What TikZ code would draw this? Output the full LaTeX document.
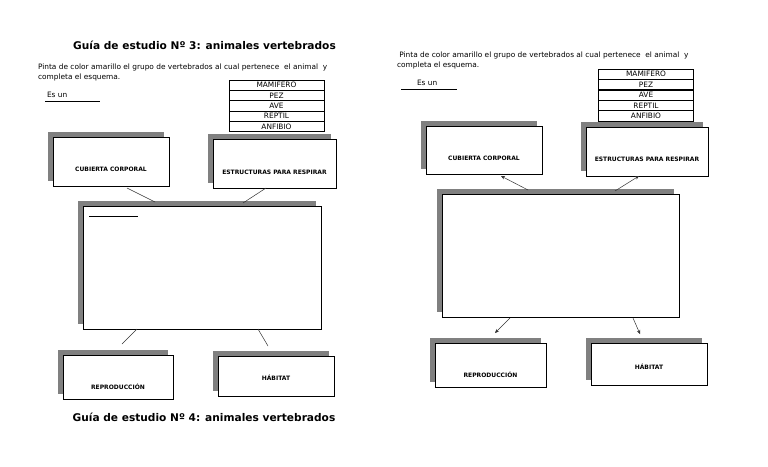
\documentclass[tikz,border=0pt]{standalone}
\usepackage{fontspec}
\setmainfont{DejaVu Sans}
\usetikzlibrary{calc,shadows,arrows.meta}
\begin{document}
\begin{tikzpicture}[x=1pt,y=-1pt,
  every node/.style={inner sep=0pt,outer sep=0pt},
  shbox/.style={draw=black,line width=0.8pt,fill=white,rectangle,
     general shadow={fill=shgray,shadow xshift=-5pt,shadow yshift=5pt}},
  boxlab/.style={font=\fontsize{6.0}{7}\selectfont\bfseries},
  listrow/.style={draw=black,line width=0.7pt,fill=white,minimum width=95pt,minimum height=10.3pt,
     font=\fontsize{7.4}{8}\selectfont},
  titletxt/.style={font=\fontsize{10.6}{12}\selectfont\bfseries},
  smalltxt/.style={font=\fontsize{7.4}{8}\selectfont,anchor=base west},
  conn/.style={line width=0.5pt,black!80},
  arr/.style={line width=0.5pt,black!80,-{Stealth[length=4pt,width=3.5pt]}}
]
\definecolor{shgray}{RGB}{128,128,128}
\useasboundingbox (0,0) rectangle (768,466);
\fill[white] (0,0) rectangle (768,466);

% ---------- LEFT PAGE ----------
\node[titletxt] (t1) at (204.5,45) {Guía de estudio Nº 3: animales vertebrados};
\node[smalltxt] (i1a) at (38,69.5) {Pinta de color amarillo el grupo de vertebrados al cual pertenece\ \ el animal\ \ y};
\node[smalltxt] (i1b) at (38,79.5) {completa el esquema.};
\node[smalltxt] (es1) at (47,97) {Es un};
\draw[line width=0.6pt] (45,101) -- (100,101);

\node[listrow] (l1a) at (276.5,85.15) {MAMIFERO};
\node[listrow] (l1b) at (276.5,95.45) {PEZ};
\node[listrow] (l1c) at (276.5,105.75) {AVE};
\node[listrow] (l1d) at (276.5,116.05) {REPTIL};
\node[listrow] (l1e) at (276.5,126.35) {ANFIBIO};

\node[shbox,minimum width=116pt,minimum height=49pt,
  label={[boxlab,yshift=-7.5pt]center:CUBIERTA CORPORAL}] (cc1) at (111,161.5) {};
\node[shbox,minimum width=123pt,minimum height=49pt,
  label={[boxlab,yshift=-8.5pt]center:ESTRUCTURAS PARA RESPIRAR}] (ep1) at (274.5,163.5) {};
\node[shbox,minimum width=238pt,minimum height=123pt] (big1) at (202,267.5) {};
\draw[line width=0.6pt] (89,216) -- (138,216);
\node[shbox,minimum width=110pt,minimum height=44pt,
  label={[boxlab,yshift=-10pt]center:REPRODUCCIÓN}] (rep1) at (118,377) {};
\node[shbox,minimum width=116pt,minimum height=40pt,
  label={[boxlab,yshift=-2pt]center:HÁBITAT}] (hab1) at (276,376) {};

\draw[conn] ($(cc1.south west)+(74,2)$) -- ($(big1.north west)+(72,-4)$);
\draw[conn] ($(ep1.south west)+(53,0)$) -- ($(big1.north west)+(160,-3)$);
\draw[conn] ($(big1.south west)+(54,0)$) -- ($(rep1.north west)+(59,-11)$);
\draw[conn] ($(big1.south west)+(175,0)$) -- ($(hab1.north west)+(50,-10)$);

\node[titletxt] (t2) at (204,417) {Guía de estudio Nº 4: animales vertebrados};

% ---------- RIGHT PAGE ----------
\node[smalltxt] (i2a) at (397,57.5) {\ Pinta de color amarillo el grupo de vertebrados al cual pertenece\ \ el animal\ \ y};
\node[smalltxt] (i2b) at (397,67.5) {completa el esquema.};
\node[smalltxt] (es2) at (417,85) {Es un};
\draw[line width=0.6pt] (401,89) -- (457,89);

\node[listrow] (l2a) at (646,74.2) {MAMIFERO};
\node[listrow] (l2b) at (646,84.6) {PEZ};
\node[listrow] (l2c) at (646,95) {AVE};
\node[listrow] (l2d) at (646,105.4) {REPTIL};
\node[listrow] (l2e) at (646,115.8) {ANFIBIO};

\node[shbox,minimum width=116pt,minimum height=48pt,
  label={[boxlab,yshift=-8pt]center:CUBIERTA CORPORAL}] (cc2) at (484,150) {};
\node[shbox,minimum width=122pt,minimum height=49pt,
  label={[boxlab,yshift=-7.5pt]center:ESTRUCTURAS PARA RESPIRAR}] (ep2) at (647,151.5) {};
\node[shbox,minimum width=237pt,minimum height=123pt] (big2) at (560.5,255.5) {};
\node[shbox,minimum width=111pt,minimum height=44pt,
  label={[boxlab,yshift=-10pt]center:REPRODUCCIÓN}] (rep2) at (490.5,365) {};
\node[shbox,minimum width=116pt,minimum height=42pt,
  label={[boxlab,yshift=-3pt]center:HÁBITAT}] (hab2) at (649,364) {};

\draw[arr] ($(big2.north west)+(86,-4)$) -- ($(cc2.south west)+(75,2)$);
\draw[arr] ($(big2.north west)+(173,-3)$) -- ($(ep2.south west)+(53,0)$);
\draw[arr] ($(big2.south west)+(68,1)$) -- ($(rep2.north west)+(60,-10)$);
\draw[arr] ($(big2.south west)+(191,1)$) -- ($(hab2.north west)+(49,-9)$);
\end{tikzpicture}
\end{document}
